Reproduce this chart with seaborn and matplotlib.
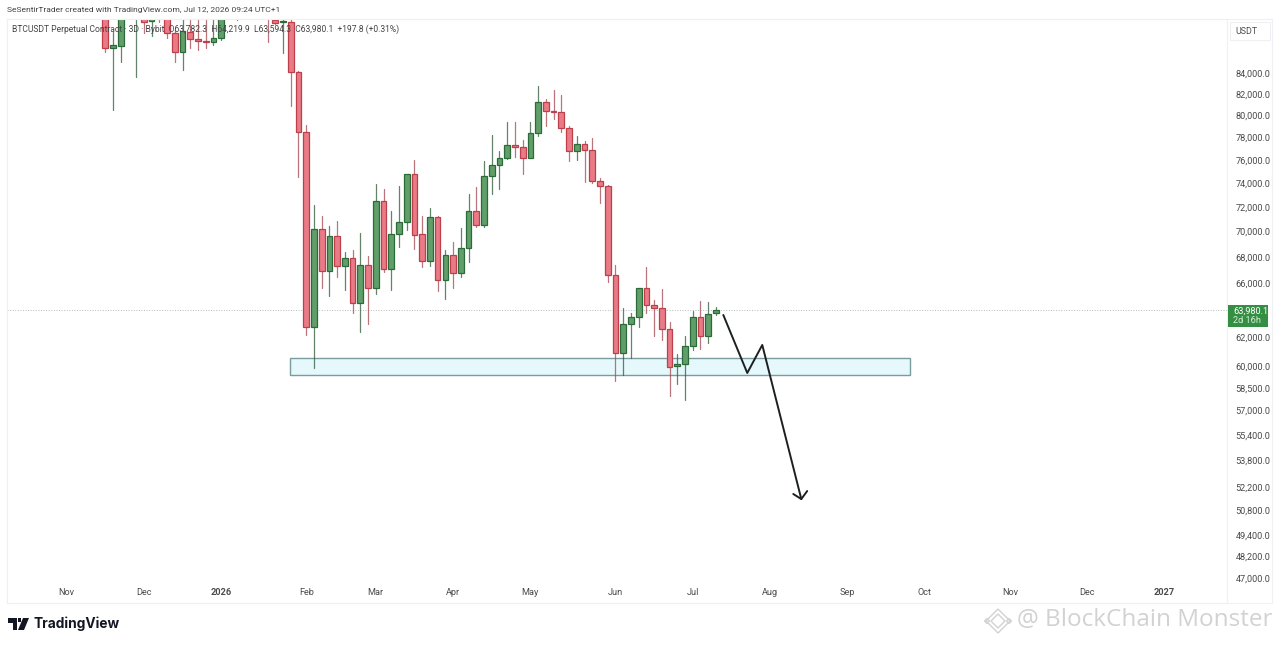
#BTCUSDT 3D candle chart with projected path
import seaborn as sns
import matplotlib.pyplot as plt
from matplotlib.patches import Rectangle, Polygon
import pandas as pd
import numpy as np

#Candle data, one value per candle. Candle 0 is the first one of Feb 2026
candles = list(range(-26, 54))
opens = [90830, 86419, 86677, 90090, 89880, 90830, 89180, 90515, 90300, 87922,
         86023, 88083, 87318, 87177, 87017, 87419, 90830, 89880, 90830, 90090,
         90720, 89880, 89270, 89070, 89070, 84097, 78537, 62750, 70186, 66901,
         69673, 67311, 67885, 64464, 67342, 65633, 72507, 67076, 69785, 70804,
         74768, 69785, 67696, 71211, 66214, 68120, 66766, 68667, 71654, 70561,
         74622, 75545, 76180, 77302, 77178, 76180, 78429, 81246, 80438, 80346,
         78880, 76797, 77421, 76862, 74220, 73743, 66593, 60907, 62929, 63480,
         65584, 64337, 64140, 62562, 59960, 60101, 61401, 63480, 62108, 63782.3]
highs = [91350, 88083, 90830, 91140, 91350, 91350, 90930, 90930, 90830, 88256,
         90090, 90300, 89780, 89780, 89780, 90930, 91140, 91040, 91140, 91040,
         91140, 90300, 89780, 89780, 89480, 84190, 79126, 72175, 71292, 70453,
         70860, 68381, 68540, 69893, 68064, 73912, 73485, 71680, 73768, 74790,
         76007, 71268, 71903, 71268, 68540, 69194, 70257, 73094, 73712, 75919,
         78222, 76823, 79427, 79372, 77771, 79427, 82754, 81498, 82375, 81902,
         79036, 78106, 77716, 77923, 74424, 73855, 67365, 64152, 63786, 65633,
         67188, 64715, 65525, 63101, 60814, 62083, 63899, 64660, 64579, 64219.9]
lows = [86082, 80503, 85098, 89780, 83644, 87950, 87650, 89102, 87448, 85040,
        84290, 86479, 86250, 86449, 86747, 87247, 89780, 89270, 89830, 89780,
        89680, 87078, 88860, 85924, 80873, 74536, 62158, 59847, 65633, 65029,
        66472, 65455, 63772, 62370, 62929, 65136, 66822, 65455, 68796, 70130,
        68613, 67210, 67287, 65381, 64785, 65610, 66441, 67573, 70350, 70402,
        73094, 73512, 76066, 76287, 74768, 76180, 78133, 79036, 79673, 78494,
        75919, 76007, 74133, 74049, 72367, 66064, 58977, 59393, 60556, 62701,
        63772, 62108, 61802, 57965, 58752, 57698, 61094, 61161, 61565, 63594.3]
closes = [86419, 86717, 90300, 90720, 90830, 89102, 90515, 89580, 87922, 86023,
          88155, 87318, 87177, 87017, 87478, 90515, 90090, 90515, 90195, 90720,
          89990, 89480, 89000, 89220, 84097, 78537, 62767, 70186, 66901, 69673,
          67311, 67885, 64464, 67342, 65633, 72507, 67076, 69785, 70804, 74768,
          69753, 67696, 71162, 66214, 68120, 66766, 68667, 71654, 70561, 74622,
          75545, 76180, 77302, 77178, 76180, 78429, 81246, 80438, 80346, 78880,
          76797, 77421, 76862, 74220, 73743, 66593, 60907, 62929, 63480, 65584,
          64337, 64140, 62562, 59931, 60101, 61401, 63480, 62108, 63655, 63980.1]

#Axis labels
x_ticks = [-31, -21, -11, 0, 9, 19, 29, 40, 50, 60, 70, 80, 91, 101, 111]
x_labels = ['Nov', 'Dec', '2026', 'Feb', 'Mar', 'Apr', 'May', 'Jun', 'Jul', 'Aug', 'Sep', 'Oct', 'Nov', 'Dec', '2027']
y_ticks = [84000, 82000, 80000, 78000, 76000, 74000, 72000, 70000, 68000, 66000, 62000, 60000,
           58500, 57000, 55400, 53800, 52200, 50800, 49400, 48200, 47000]

#Drawings on the chart
zone_x = [-2.07, 78.1]
zone_y = [59368, 60540]
path_x = [53.95, 57.05, 58.99, 64.04]
path_y = [63606, 59504, 61450, 51476]
head_x = [63.0, 64.04, 64.8]
head_y = [51778, 51476, 51954]

RED = '#e97b87'
RED_EDGE = '#bd3f4b'
GREEN = '#619f6a'
GREEN_EDGE = '#2d6a3a'

sns.set_theme(style='white')
plt.rcParams['font.family'] = ['Roboto', 'DejaVu Sans']

fig = plt.figure(figsize=(12.8, 6.45), dpi=100)
ax = fig.add_axes([7/1280, 1-603/645, (1227-7)/1280, (603-19)/645])

data = pd.DataFrame({'candle': candles, 'open': opens, 'high': highs, 'low': lows, 'close': closes})
data['dir'] = np.where(data['close'] >= data['open'], 'up', 'down')
data['body_low'] = data[['open', 'close']].min(axis=1)
data['body_height'] = (data['close'] - data['open']).abs()

#wicks
wicks = data.melt(id_vars=['candle', 'dir'], value_vars=['low', 'high'], value_name='price')
sns.lineplot(data=wicks, x='candle', y='price', units='candle', hue='dir', estimator=None, sort=False,
             palette={'up': '#2f5a3a', 'down': '#a2474f'}, legend=False, lw=0.9, alpha=0.75, zorder=2, ax=ax)

#bodies
sns.barplot(x=data['candle'].values, y=data['body_height'].values, bottom=data['body_low'].values,
            native_scale=True, orient='x', errorbar=None, color='#888888', width=0.74, linewidth=0.9, zorder=3, ax=ax)
for bar, d in zip(ax.patches, data['dir']):
    bar.set_facecolor(GREEN if d == 'up' else RED)
    bar.set_edgecolor(GREEN_EDGE if d == 'up' else RED_EDGE)

ax.set_yscale('log')
ax.set_xlim(-38.7, 119.1)
ax.set_ylim(45680, 89379)
ax.set_xlabel('')
ax.set_ylabel('')

#support zone, last price line, projected path
ax.add_patch(Rectangle((zone_x[0], zone_y[0]), zone_x[1]-zone_x[0], zone_y[1]-zone_y[0],
                       facecolor='#e5f8fc', edgecolor='#7b9c9f', lw=1, zorder=1))
ax.axhline(closes[-1], color='#b4baba', ls=':', lw=0.7, zorder=1)
sns.lineplot(x=path_x, y=path_y, sort=False, estimator=None, color='#1c2022', lw=1.4, zorder=4, ax=ax)
sns.lineplot(x=head_x, y=head_y, sort=False, estimator=None, color='#1c2022', lw=1.4, zorder=4, ax=ax)

ax.set_xticks(x_ticks, x_labels, fontsize=6.6, color='#4a4a4a')
for lab in ax.get_xticklabels():
    if lab.get_text() in ('2026', '2027'):
        lab.set_fontweight('bold')
ax.tick_params(axis='x', length=0, pad=-10.5, which='both')
ax.yaxis.tick_right()
ax.set_yticks(y_ticks, [f'{v:,.1f}' for v in y_ticks], fontsize=6.6, color='#4a4a4a')
ax.minorticks_off()
ax.tick_params(axis='y', length=0, pad=6, which='both')
for s in ax.spines.values():
    s.set_color('#eef0f4')
    s.set_linewidth(0.8)


def fx(x):
    return x/1280


def fy(y):
    return 1-y/645


#outer frame of the chart and price scale
fig.add_artist(Rectangle((fx(7), fy(603)), fx(1272-7), (603-19)/645, fill=False, edgecolor='#eef0f4', lw=0.8,
                         transform=fig.transFigure))

#header text
fig.text(fx(7), fy(10), 'SeSentirTrader created with TradingView.com, Jul 12, 2026 09:24 UTC+1',
         fontsize=6.1, color='#444444', va='center')
ax.text(fx(12), fy(29), 'BTCUSDT Perpetual Contract · 3D · Bybit  O63,782.3  H64,219.9  L63,594.3  C63,980.1  +197.8 (+0.31%)',
        transform=fig.transFigure, fontsize=6.15, color='#444444', va='center', zorder=6)

#USDT box and last price label
fig.add_artist(Rectangle((fx(1230), fy(40)), fx(40), 18/645, facecolor='white', edgecolor='#eef0f4', lw=0.8,
                         transform=fig.transFigure))
fig.text(fx(1246), fy(31), 'USDT', fontsize=6.4, color='#4a4a4a', ha='center', va='center')
fig.add_artist(Rectangle((fx(1228), fy(327)), fx(40), 22/645, facecolor='#348f42', edgecolor='none',
                         transform=fig.transFigure))
fig.text(fx(1233), fy(311), f'{closes[-1]:,.1f}', fontsize=6.6, color='white', va='center')
fig.text(fx(1233), fy(321), '2d 16h', fontsize=6.6, color='#d8f0da', va='center')

#TradingView logo
logo = '#131722'
fig.add_artist(Polygon([(fx(8), fy(618)), (fx(17), fy(618)), (fx(17), fy(630)), (fx(13), fy(630)),
                        (fx(13), fy(623)), (fx(8), fy(623))], facecolor=logo, edgecolor='none',
                       transform=fig.transFigure))
fig.add_artist(Polygon([(fx(23), fy(618)), (fx(29), fy(618)), (fx(24), fy(630)), (fx(18), fy(630))],
                       facecolor=logo, edgecolor='none', transform=fig.transFigure))
fig.add_artist(Polygon([(fx(17.5), fy(618)), (fx(21), fy(618)), (fx(21), fy(622)), (fx(17.5), fy(622))],
                       facecolor=logo, edgecolor='none', transform=fig.transFigure))
fig.text(fx(34), fy(624), 'TradingView', fontsize=9.9, fontweight='bold', color=logo, va='center', family='Inter')

#watermark
wm = '#d2d2d2'
for cx, cy, r in [(998, 621, 7), (998, 621, 12), (987, 621, 2.5), (1009, 621, 2.5)]:
    fig.add_artist(Polygon([(fx(cx-r), fy(cy)), (fx(cx), fy(cy-r)), (fx(cx+r), fy(cy)), (fx(cx), fy(cy+r))],
                           fill=False, edgecolor=wm, lw=1, transform=fig.transFigure))
fig.text(fx(1017), fy(620), '@ BlockChain Monster', fontsize=17.5, color=wm, va='center', family='Open Sans')

fig.savefig('out.png', dpi=100)
